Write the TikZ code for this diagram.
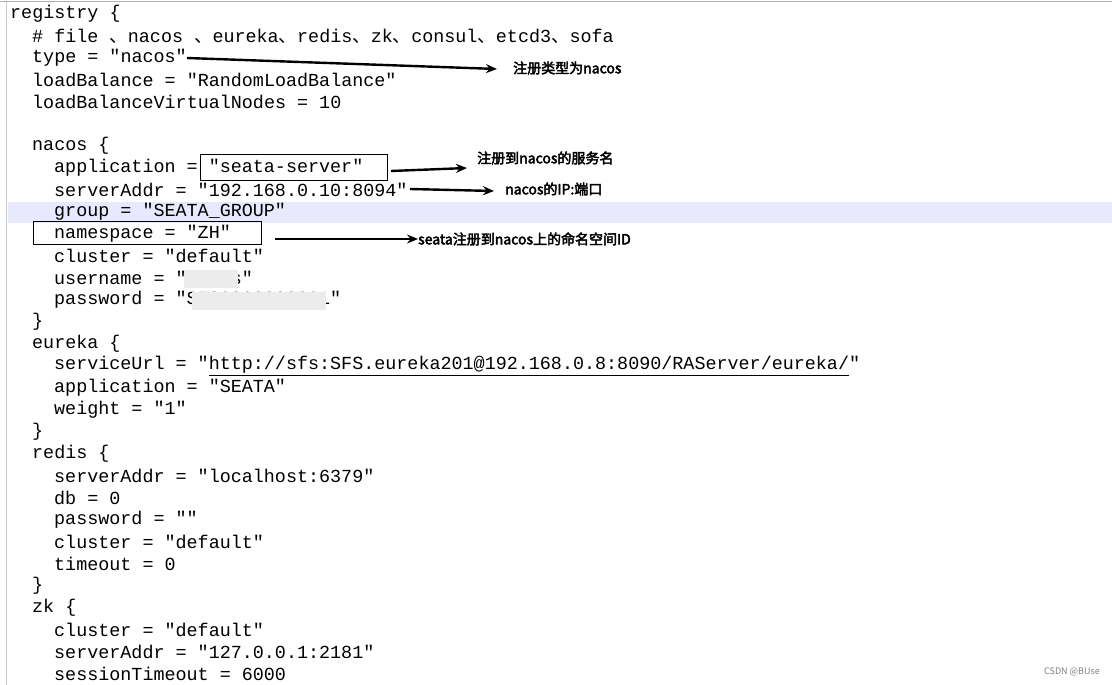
\documentclass[tikz,border=0pt]{standalone}
\usepackage{fontspec}
\setmonofont{Liberation Mono}
\newfontfamily\cjk{Noto Sans CJK SC}[FakeBold=3]
\newfontfamily\cjkm{Noto Sans CJK SC}
\newcommand\dn{{\cjkm 、}}
\usetikzlibrary{arrows.meta}
\begin{document}
\begin{tikzpicture}[x=1pt,y=-1pt,
  code/.style={anchor=west,inner sep=0pt,font=\ttfamily\fontsize{18.4}{18}\selectfont},
  note/.style={anchor=west,inner sep=0pt,font=\cjk\fontsize{14}{14}\selectfont},
  arr/.style={-{Stealth[length=11pt,width=9pt]},line width=2.4pt},
  hbox/.style={draw,line width=0.9pt}]
\useasboundingbox (0,0) rectangle (1112,685);
\fill[white] (0,0) rectangle (1112,685);
\draw[gray!60] (0,1) -- (1112,1);
\draw[gray!40] (6,2) -- (6,685);
\fill[blue!9] (8,202) rectangle (1112,223);
\node[code] (l0) at (10,14) {registry \{};
\node[code] (l1) at (32,36) {\# file \dn nacos \dn eureka\dn redis\dn zk\dn consul\dn etcd3\dn sofa};
\node[code] (l2) at (32,58) {type = "nacos"};
\node[code] (l3) at (32,80) {loadBalance = "RandomLoadBalance"};
\node[code] (l4) at (32,102) {loadBalanceVirtualNodes = 10};
\node[code] (l6) at (32,146) {nacos \{};
\node[code] (l7) at (54,168) {application = "seata-server"};
\node[code] (l8) at (54,190) {serverAddr = "192.168.0.10:8094"};
\node[code] (l9) at (54,212) {group = "SEATA\_GROUP"};
\node[code] (l10) at (54,234) {namespace = "ZH"};
\node[code] (l11) at (54,256) {cluster = "default"};
\node[code] (l12) at (54,278) {username = "nacos"};
\node[code] (l13) at (54,300) {password = "SFS0000002021"};
\fill[white!85!gray] (184,270) rectangle (238,288);
\fill[white!85!gray] (192,292) rectangle (326,310);
\node[code] (l14) at (32,322) {\}};
\node[code] (l15) at (32,344) {eureka \{};
\node[code] (l16) at (54,366) {serviceUrl = "\underline{http://sfs:SFS.eureka201@192.168.0.8:8090/RAServer/eureka/}"};
\node[code] (l17) at (54,388) {application = "SEATA"};
\node[code] (l18) at (54,410) {weight = "1"};
\node[code] (l19) at (32,432) {\}};
\node[code] (l20) at (32,454) {redis \{};
\node[code] (l21) at (54,476) {serverAddr = "localhost:6379"};
\node[code] (l22) at (54,498) {db = 0};
\node[code] (l23) at (54,520) {password = ""};
\node[code] (l24) at (54,542) {cluster = "default"};
\node[code] (l25) at (54,564) {timeout = 0};
\node[code] (l26) at (32,586) {\}};
\node[code] (l27) at (32,608) {zk \{};
\node[code] (l28) at (54,630) {cluster = "default"};
\node[code] (l29) at (54,652) {serverAddr = "127.0.0.1:2181"};
\node[code] (l30) at (54,674) {sessionTimeout = 6000};
\draw[hbox] (200,154) rectangle (387,180);
\draw[hbox] (33,221) rectangle (261,244);
\node[note] (n1) at (513,68) {注册类型为nacos};
\node[note] (n2) at (477,158) {注册到nacos的服务名};
\node[note] (n3) at (505,189) {nacos的IP:端口};
\node[note] (n4) at (418,239) {seata注册到nacos上的命名空间ID};
\coordinate (a1) at (187,58);
\coordinate (a2) at (391,171);
\coordinate (a3) at (410,189);
\coordinate (a4) at (275,239);
\draw[arr] (a1) -- (497,69);
\draw[arr] (a2) -- (467,168);
\draw[arr] (a3) -- (494,191);
\draw[arr] (a4) -- (n4.west);
\node[anchor=east,inner sep=0pt,text=gray,font=\cjkm\fontsize{9}{9}\selectfont] (wm) at (1100,672) {CSDN @BUse};
\end{tikzpicture}
\end{document}
